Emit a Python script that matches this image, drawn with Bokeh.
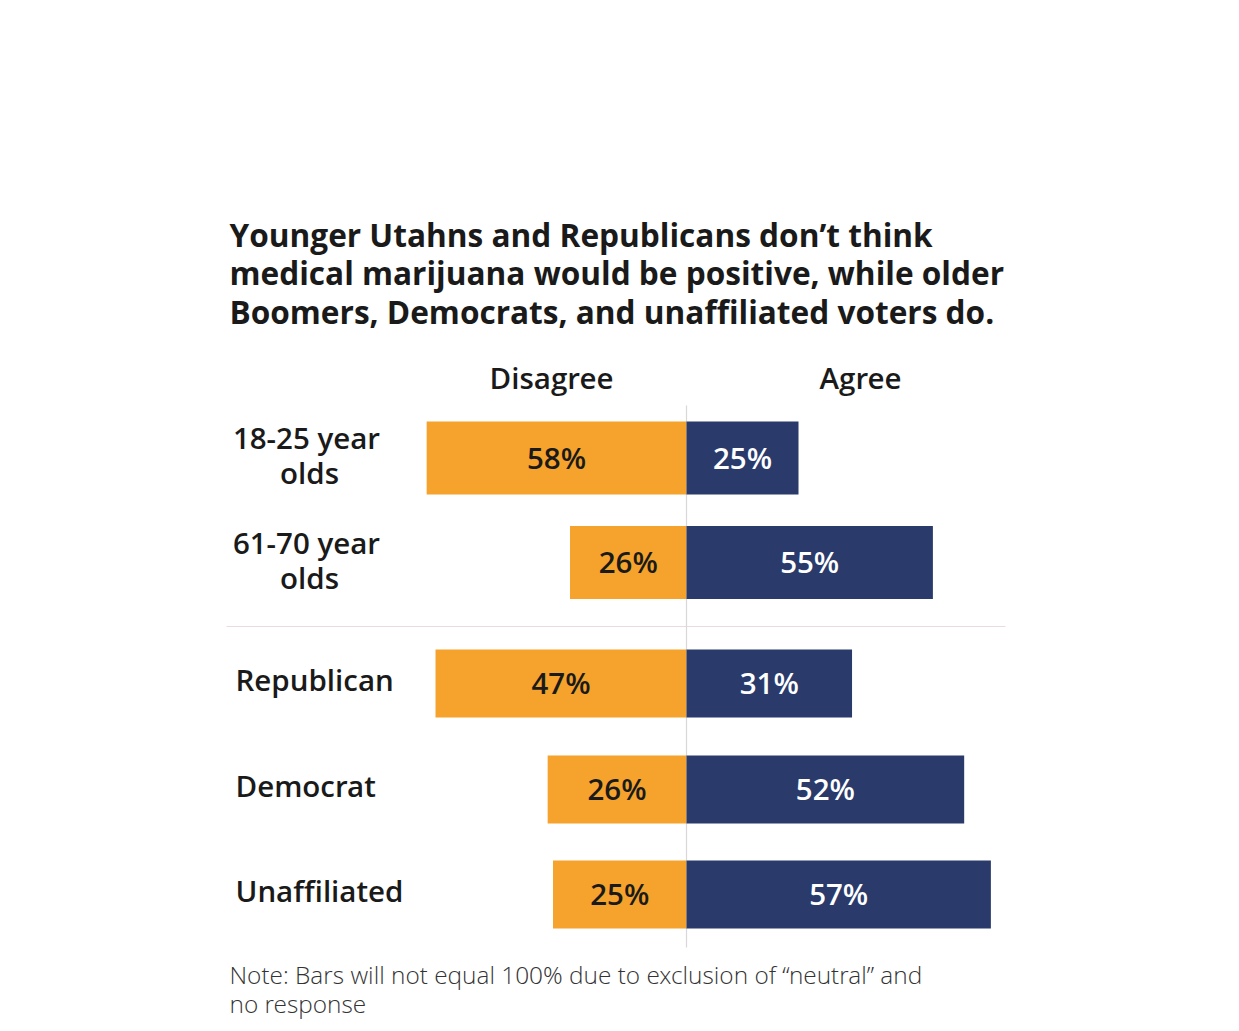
from bokeh.plotting import figure
from bokeh.models import Range1d, Label
from bokeh.core.properties import value
from bokeh.embed import file_html
from bokeh.resources import INLINE

# ---- data ----
title_lines = ["Younger Utahns and Republicans don\u2019t think",
               "medical marijuana would be positive, while older",
               "Boomers, Democrats, and unaffiliated voters do."]
age_groups = ["18-25 year\nolds", "61-70 year\nolds"]
age_disagree = [58, 26]
age_agree = [25, 55]
parties = ["Republican", "Democrat", "Unaffiliated"]
party_disagree = [47, 26, 25]
party_agree = [31, 52, 57]
headers = ["Disagree", "Agree"]
note_lines = ["Note: Bars will not equal 100% due to exclusion of \u201cneutral\u201d and",
              "no response"]

# ---- layout / style ----
W, H = 1239, 1031
CX = 686
S_AGE = 4.48
S_PARTY = 5.34
ORANGE = "#F5A32C"
NAVY = "#293A6B"
FONT = "Open Sans"
SEMI = "Open Sans SemiBold, Open Sans"
LIGHT = "Open Sans Light, Open Sans"
LAB = "29.5px"

age_y = [457.5, 562]
party_y = [683, 789, 894]

p = figure(width=W, height=H, output_backend="svg", toolbar_location=None,
           x_range=Range1d(0, W), y_range=Range1d(H, 0),
           min_border=0, min_border_left=0, min_border_right=0,
           min_border_top=0, min_border_bottom=0)
p.axis.visible = False
p.grid.visible = False
p.outline_line_color = None
p.background_fill_color = "white"
p.border_fill_color = "white"
p.extra_x_ranges = {
    "age": Range1d(-CX / S_AGE, (W - CX) / S_AGE),
    "party": Range1d(-CX / S_PARTY, (W - CX) / S_PARTY),
}

# separator & center line
p.segment(x0=[226], x1=[1005], y0=[626], y1=[626], line_color="#eadcdc", line_width=1.2)
p.segment(x0=[0], x1=[0], y0=[405], y1=[947], line_color="#d8d8d8", line_width=1.2,
          x_range_name="age")

# bars
p.hbar(y=age_y, left=[-v for v in age_disagree], right=0, height=73,
       fill_color=ORANGE, line_color=None, x_range_name="age")
p.hbar(y=age_y, left=0, right=age_agree, height=73,
       fill_color=NAVY, line_color=None, x_range_name="age")
p.hbar(y=party_y, left=[-v for v in party_disagree], right=0, height=68,
       fill_color=ORANGE, line_color=None, x_range_name="party")
p.hbar(y=party_y, left=0, right=party_agree, height=68,
       fill_color=NAVY, line_color=None, x_range_name="party")

# value labels
def vlabels(ys, dis, agr, rng):
    p.text(x=[-v / 2 for v in dis], y=[y - 1 for y in ys], text=[f"{v}%" for v in dis],
           text_align="center", text_baseline="middle", text_font=value(SEMI),
           text_font_size=LAB, text_color="#1a1a1a", x_range_name=rng)
    p.text(x=[v / 2 for v in agr], y=[y - 1 for y in ys], text=[f"{v}%" for v in agr],
           text_align="center", text_baseline="middle", text_font=value(SEMI),
           text_font_size=LAB, text_color="white", x_range_name=rng)

vlabels(age_y, age_disagree, age_agree, "age")
vlabels(party_y, party_disagree, party_agree, "party")

# title
for i, t in enumerate(title_lines):
    p.add_layout(Label(x=229, y=233.5 + 38.5 * i, text=t, text_font=FONT,
                       text_font_style="bold", text_font_size="31.6px",
                       text_color="#1a1a1a", text_baseline="middle"))

# headers
for hx, t in zip([551, 860], headers):
    p.add_layout(Label(x=hx, y=377, text=t, text_font=SEMI, text_font_size=LAB,
                       text_color="#1a1a1a", text_align="center", text_baseline="middle"))

# row labels
for y, t in zip(age_y, age_groups):
    l1, l2 = t.split("\n")
    p.add_layout(Label(x=306, y=y - 20.5, text=l1, text_font=SEMI, text_font_size=LAB,
                       text_color="#1a1a1a", text_align="center", text_baseline="middle"))
    p.add_layout(Label(x=309, y=y + 14.5, text=l2, text_font=SEMI, text_font_size=LAB,
                       text_color="#1a1a1a", text_align="center", text_baseline="middle"))
for y, t in zip(party_y, parties):
    p.add_layout(Label(x=235, y=y - 4, text=t, text_font=SEMI, text_font_size=LAB,
                       text_color="#1a1a1a", text_baseline="middle"))

# note
for i, t in enumerate(note_lines):
    p.add_layout(Label(x=229, y=974 + 29 * i, text=t, text_font=LIGHT,
                       text_font_size="24.4px", text_color="#333333", text_baseline="middle"))

open("out.html", "w").write(file_html(p, INLINE))
